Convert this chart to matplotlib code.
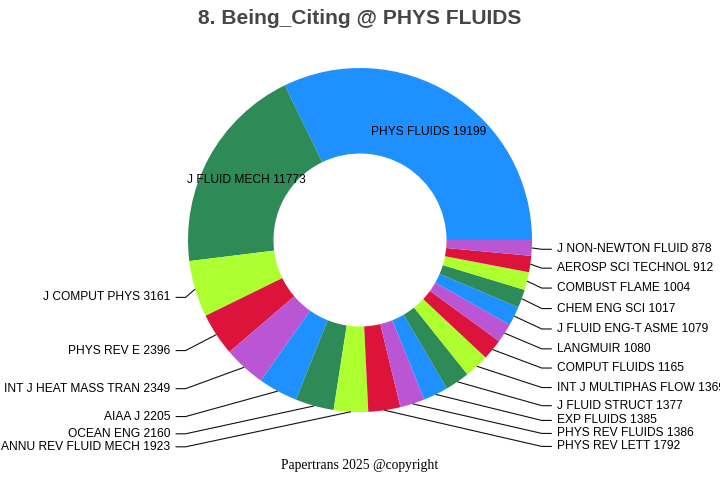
import matplotlib
matplotlib.use('Agg')
import matplotlib.pyplot as plt
import numpy as np

# ---------------- data ----------------
journals = ['PHYS FLUIDS', 'J FLUID MECH', 'J COMPUT PHYS', 'PHYS REV E',
            'INT J HEAT MASS TRAN', 'AIAA J', 'OCEAN ENG', 'ANNU REV FLUID MECH',
            'PHYS REV LETT', 'PHYS REV FLUIDS', 'EXP FLUIDS', 'J FLUID STRUCT',
            'INT J MULTIPHAS FLOW', 'COMPUT FLUIDS', 'LANGMUIR', 'J FLUID ENG-T ASME',
            'CHEM ENG SCI', 'COMBUST FLAME', 'AEROSP SCI TECHNOL', 'J NON-NEWTON FLUID']
counts = [19199, 11773, 3161, 2396, 2349, 2205, 2160, 1923, 1792, 1386, 1385, 1377,
          1369, 1165, 1080, 1079, 1017, 1004, 912, 878]
palette = ['#1E90FF', '#2E8B57', '#ADFF2F', '#DC143C', '#BA55D3']
title = '8. Being_Citing @ PHYS FLUIDS'
footer = 'Papertrans 2025 @copyright'

# ---------------- layout / style ----------------
W, H = 720, 480
PX = 72 / 100.0
CX, CY = 360, 240
R_OUT, R_IN = 172, 86.5
R_LAB = 201      # natural radius for label y
R_ELB = 182      # radius for elbow alignment
GAP = 13         # min spacing between labels (px)
BOTTOM = H - 448  # lowest label y (data coords)
SEG2 = 10
TXT_PAD = 5
LBL_FS = 12 * PX
FONT = 'Liberation Sans'

fig = plt.figure(figsize=(W / 100, H / 100), dpi=100)
ax = fig.add_axes([0, 0, 1, 1])
colors = [palette[i % len(palette)] for i in range(len(counts))]
wedges, _ = ax.pie(counts, colors=colors, startangle=0, counterclock=True,
                   radius=R_OUT, center=(CX, CY),
                   wedgeprops=dict(width=R_OUT - R_IN, edgecolor='none', linewidth=0))
ax.set_xlim(0, W)
ax.set_ylim(0, H)
ax.set_aspect('auto')
ax.axis('off')

n_inside = 2
right, left = [], []
for i, w in enumerate(wedges):
    mid = np.deg2rad((w.theta1 + w.theta2) / 2)
    if i < n_inside:
        rr = (R_OUT + R_IN) / 2
        ax.text(CX + rr * np.cos(mid), CY + rr * np.sin(mid) - 2,
                f'{journals[i]} {counts[i]}', ha='center', va='center',
                fontsize=LBL_FS, family=FONT, color='black')
        continue
    (right if np.cos(mid) >= 0 else left).append((i, mid))


def layout(items, sign):
    items = sorted(items, key=lambda t: -np.sin(t[1]))  # top first
    ys = [CY + R_LAB * np.sin(m) for _, m in items]
    for k in range(1, len(ys)):
        ys[k] = min(ys[k], ys[k - 1] - GAP)
    if ys and ys[-1] < BOTTOM:
        ys[-1] = BOTTOM
        for k in range(len(ys) - 2, -1, -1):
            ys[k] = max(ys[k], ys[k + 1] + GAP)
    elbow = CX + sign * max(R_ELB * abs(np.cos(m)) for _, m in items)
    for (i, m), y in zip(items, ys):
        x0, y0 = CX + R_OUT * np.cos(m), CY + R_OUT * np.sin(m)
        ax.plot([x0, elbow, elbow + sign * SEG2], [y0, y, y],
                color='#111111', lw=0.8, solid_capstyle='butt')
        ax.text(elbow + sign * (SEG2 + TXT_PAD), y, f'{journals[i]} {counts[i]}',
                ha='left' if sign > 0 else 'right', va='center',
                fontsize=LBL_FS, family=FONT, color='black')


layout(right, 1)
layout(left, -1)

fig.text(0.5, 1 - 18 / H, title, ha='center', va='center', fontsize=21 * PX,
         fontweight='bold', color='#464646', family=FONT)
fig.text(0.5, 1 - 466 / H, footer, ha='center', va='center', fontsize=13.6 * PX,
         color='black', family='Liberation Serif')

fig.savefig('out.png', dpi=100)
